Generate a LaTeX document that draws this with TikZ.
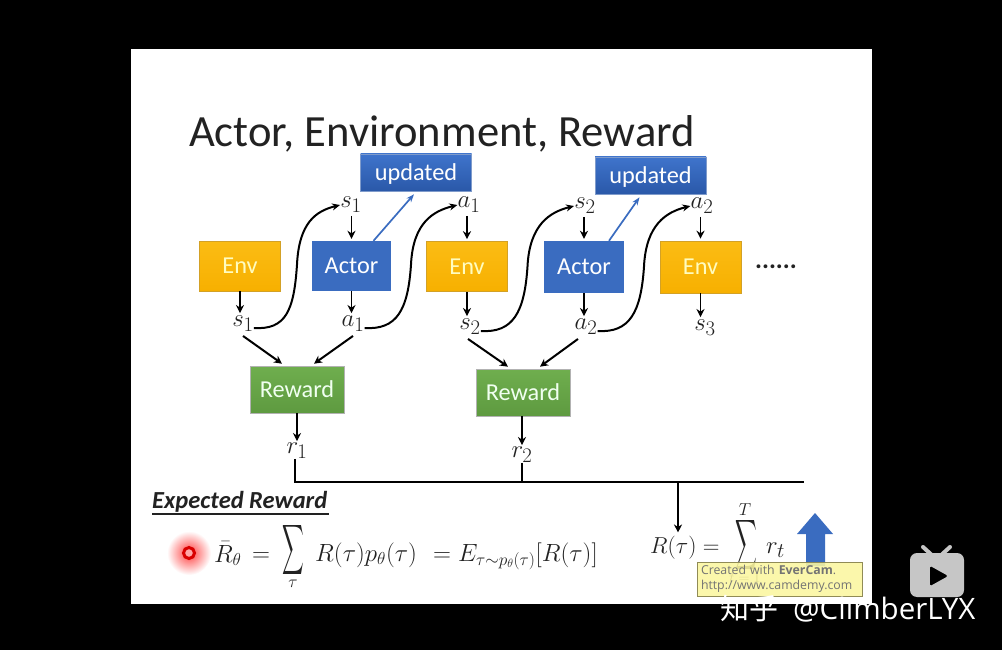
\documentclass[tikz,border=0pt]{standalone}
\usepackage{fontspec}
\usepackage{amsmath}
\setmainfont{Carlito}
\newfontfamily\cjkf{Noto Sans CJK SC}
\newfontfamily\wmf{Open Sans}
\usetikzlibrary{arrows.meta,calc,shapes.geometric}
\definecolor{envc}{HTML}{FBBC14}
\definecolor{envd}{HTML}{F7B000}
\definecolor{actc}{HTML}{3A6CC0}
\definecolor{updt}{HTML}{3F74CC}
\definecolor{updb}{HTML}{2A58A8}
\definecolor{rewt}{HTML}{6FAE4E}
\definecolor{rewb}{HTML}{5E9A40}
\definecolor{ink}{HTML}{222222}
\definecolor{notey}{HTML}{FBF6A0}
\tikzset{
  box/.style={minimum height=50pt,inner sep=0pt,font=\fontsize{24.3}{24.3}\selectfont},
  envbox/.style={box,minimum width=81pt,top color=envc,bottom color=envd,text=yellow!25!white,draw=envd!70!gray,line width=.6pt},
  actorbox/.style={box,minimum width=79pt,fill=actc,text=white},
  updbox/.style={box,minimum width=111pt,minimum height=37pt,text depth=0pt,top color=updt,bottom color=updb,text=white,draw=updb!60!white,line width=.6pt},
  rewbox/.style={box,minimum width=94pt,minimum height=47pt,top color=rewt,bottom color=rewb,text=green!6!white,draw=gray!60,line width=.6pt},
  lab/.style={inner sep=0pt,text=ink,font=\fontsize{28}{28}\selectfont},
  eqn/.style={inner sep=0pt,text=ink,font=\fontsize{24.5}{24.5}\selectfont},
  arr/.style={-{Stealth[length=8pt,width=8pt]},line width=1.5pt,black},
  curvearr/.style={-{Stealth[length=8pt,width=7pt]},line width=2pt,black},
  bluearr/.style={-{Stealth[length=8pt,width=6pt]},line width=1.7pt,color=actc},
  busline/.style={line width=2.2pt,black},
  wm/.style={inner sep=0pt,text=white,font=\fontsize{29}{29}\selectfont},
  notebox/.style={text width=157pt,minimum height=34pt,inner xsep=4pt,inner ysep=0pt,fill=notey,fill opacity=.88,text opacity=1,draw=gray!60!olive,line width=.8pt,align=left,text=gray!90!black,font=\fontsize{12.3}{15}\wmf},
}
\begin{document}
\begin{tikzpicture}[x=1pt,y=-1pt]
\useasboundingbox (0,0) rectangle (1002,650);
\fill[black] (0,0) rectangle (1002,650);
\fill[white] (131,49) rectangle (872,604);

\node[inner sep=0pt,text=ink,font=\fontsize{44.6}{44.6}\selectfont] (title) at (442,133.5) {Actor, Environment, Reward};

% boxes
\node[envbox] (env1) at (240,266) {Env};
\node[actorbox] (actor1) at (351.5,266) {Actor};
\node[envbox] (env2) at (467,266.5) {Env};
\node[actorbox,minimum width=80pt,minimum height=52pt] (actor2) at (584,267) {Actor};
\node[envbox,minimum height=52pt] (env3) at (700.5,267) {Env};
\node[updbox] (upd1) at (416,172.5) {updated};
\node[updbox] (upd2) at (650.5,175.5) {updated};
\node[rewbox] (rew1) at (297,389.5) {Reward};
\node[rewbox] (rew2) at (523,392.5) {Reward};
\node[inner sep=0pt,font=\fontsize{26}{26}\selectfont\bfseries,text=ink] (dots) at (776,267) {......};

% labels
\node[lab] (s1b) at (243,324) {$s_1$};
\node[lab] (a1b) at (353,324) {$a_1$};
\node[lab] (s2b) at (470,327) {$s_2$};
\node[lab] (a2b) at (586,327) {$a_2$};
\node[lab] (s3b) at (705,328) {$s_3$};
\node[lab] (s1t) at (351,205) {$s_1$};
\node[lab] (a1t) at (469,205) {$a_1$};
\node[lab] (s2t) at (585,206) {$s_2$};
\node[lab] (a2t) at (702,206) {$a_2$};
\node[lab] (r1) at (297,451) {$r_1$};
\node[lab] (r2) at (522,455) {$r_2$};

% vertical arrows
\draw[arr] (env1.south) -- ([yshift=3pt]s1b.north -| env1.south);
\draw[arr] (actor1.south) -- ([yshift=3pt]a1b.north -| actor1.south);
\draw[arr] (env2.south) -- ([yshift=3pt]s2b.north -| env2.south);
\draw[arr] (actor2.south) -- ([yshift=3pt]a2b.north -| actor2.south);
\draw[arr] (env3.south) -- ([yshift=3pt]s3b.north -| env3.south);
\draw[arr] ([yshift=-3pt]s1t.south -| actor1.north) -- ([yshift=2pt]actor1.north);
\draw[arr] ([yshift=-3pt]a1t.south -| env2.north) -- ([yshift=2pt]env2.north);
\draw[arr] ([yshift=-3pt]s2t.south -| actor2.north) -- ([yshift=2pt]actor2.north);
\draw[arr] ([yshift=-3pt]a2t.south -| env3.north) -- ([yshift=2pt]env3.north);

% curved arrows
\draw[curvearr] ([yshift=-4pt]s1b.east) .. controls +(32,2) and +(-3,46) .. ($(s1b.east)!.5!(s1t.west)$) .. controls +(2,-42) and +(-24,6) .. (s1t.west);
\draw[curvearr] ([yshift=-4pt]a1b.east) .. controls +(32,2) and +(-3,46) .. ($(a1b.east)!.5!(a1t.west)$) .. controls +(2,-42) and +(-24,6) .. (a1t.west);
\draw[curvearr] ([yshift=-4pt]s2b.east) .. controls +(32,2) and +(-3,46) .. ($(s2b.east)!.5!(s2t.west)$) .. controls +(2,-42) and +(-24,6) .. (s2t.west);
\draw[curvearr] ([yshift=-4pt]a2b.east) .. controls +(32,2) and +(-3,46) .. ($(a2b.east)!.5!(a2t.west)$) .. controls +(2,-42) and +(-24,6) .. (a2t.west);

% update arrows
\draw[bluearr] ([xshift=22pt]actor1.north) -- ([xshift=-2pt,yshift=-3pt]upd1.south);
\draw[bluearr] ([xshift=25pt]actor2.north) -- ([xshift=-11pt,yshift=-3pt]upd2.south);

% to reward
\draw[arr,line width=2pt] ([yshift=-4pt]s1b.south) -- ([xshift=-15pt,yshift=2pt]rew1.north);
\draw[arr,line width=2pt] ([yshift=-4pt]a1b.south) -- ([xshift=17pt,yshift=2pt]rew1.north);
\draw[arr,line width=2pt] ([yshift=-4pt,xshift=-2pt]s2b.south) -- ([xshift=-15pt,yshift=2pt]rew2.north);
\draw[arr,line width=2pt] ([yshift=-4pt,xshift=-8pt]a2b.south) -- ([xshift=17pt,yshift=2pt]rew2.north);
\draw[arr] (rew1.south) -- ([yshift=2pt]r1.north);
\draw[arr] (rew2.south -| r2) -- ([yshift=2pt]r2.north);

% bus
\coordinate (busend) at (804,482);
\coordinate (tap) at (678,482);
\draw[busline] ([xshift=-2pt]r1.south) -- ([xshift=-2pt]r1.south |- busend) -- (busend);
\draw[busline,line width=1.6pt] (r2.south) -- (r2.south |- busend);

% expected reward
\node[inner sep=0pt,anchor=base west,text=ink,font=\fontsize{24.5}{24.5}\selectfont\bfseries\itshape] (exp) at (152,508) {Expected Reward};
\draw[line width=1.2pt,ink] (152,514) -- (329,514);

\shade[inner color=red!75!white,outer color=white] (189,553) circle (22);
\draw[line width=3pt,red!85!black,fill=red!35!white] (189,553) circle (5.5);

\node[eqn,anchor=base west] (rbar) at (214,562) {$\bar R_\theta$};
\node[eqn,anchor=base west] (eq1) at (252,561) {$=$};
\node[inner sep=0pt,text=ink] (sum1) at (293,550) {\scalebox{1.5}[3.5]{$\displaystyle\sum$}};
\node[inner sep=0pt,text=ink,font=\fontsize{18}{18}\selectfont] (tau1) at (293,584) {$\tau$};
\node[eqn,anchor=base west] (eq2) at (315,561) {$R(\tau)p_\theta(\tau)$};
\node[eqn,anchor=base west] (eq3) at (433,561) {$=E_{\tau\sim p_\theta(\tau)}[R(\tau)]$};

\node[eqn,anchor=base west] (rt) at (650,553) {\scalebox{.93}{$R(\tau)=$}};
\node[inner sep=0pt,text=ink] (sum2) at (746,545) {\scalebox{1.5}[3.5]{$\displaystyle\sum$}};
\node[inner sep=0pt,text=ink,font=\fontsize{18}{18}\selectfont] (T) at (745,510) {$T$};
\node[inner sep=0pt,text=ink,font=\fontsize{15}{15}\selectfont] (t1) at (745,578) {$t=1$};
\node[eqn,anchor=base west,font=\fontsize{28}{28}\selectfont] (rtt) at (766,553) {$r_t$};
\draw[arr,line width=1.8pt] (tap) -- ([yshift=3pt]rt.north -| tap);

% thick blue arrow
\fill[actc] (815,513) -- (833,534) -- (825,534) -- (825,566) -- (806,566) -- (806,534) -- (797,534) -- cycle;

% caption note
\node[notebox] (note) at (779.5,579) {Created with \textbf{EverCam}.\\http://www.camdemy.com};

% player icon
\draw[gray!45!white,line width=4pt,line cap=round] (923,547) -- (935,558);
\draw[gray!45!white,line width=4pt,line cap=round] (950,547) -- (938,558);
\fill[gray!45!white,rounded corners=7pt] (910,553) rectangle (964,597);
\fill[black,rounded corners=1.5pt] (930,566) -- (948,576) -- (930,586) -- cycle;

% watermark
\node[wm,anchor=base west] (wm1) at (720,619) {\cjkf 知乎};
\node[wm,anchor=base west] (wm2) at (793,619) {\wmf\fontsize{29.5}{29.5}\selectfont @ClimberLYX};
\end{tikzpicture}
\end{document}
